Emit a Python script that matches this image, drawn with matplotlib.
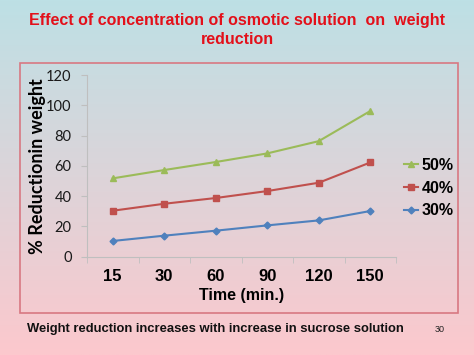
import numpy as np
import matplotlib
matplotlib.use("Agg")
import matplotlib.pyplot as plt

times = ["15", "30", "60", "90", "120", "150"]
s50 = [51.8, 57.3, 62.6, 68.3, 76.4, 96.3]
s40 = [30.4, 35.0, 38.8, 43.4, 48.9, 62.3]
s30 = [10.4, 13.9, 17.2, 20.7, 24.0, 30.2]
yticks = [0, 20, 40, 60, 80, 100, 120]

W, H = 474, 355
fig = plt.figure(figsize=(W/100, H/100), dpi=100)

# background gradient
bg = fig.add_axes([0, 0, 1, 1], zorder=-10)
top = np.array([189, 224, 229]) / 255
bot = np.array([252, 200, 205]) / 255
t = np.linspace(0, 1, 256)[:, None]
grad = top[None, :] * (1 - t) + bot[None, :] * t
img = np.repeat(grad[:, None, :], 2, axis=1)
bg.imshow(img, aspect="auto", extent=[0, 1, 0, 1], origin="upper")
bg.set_xlim(0, 1); bg.set_ylim(0, 1)
bg.axis("off")

# border box
bg.add_patch(plt.Rectangle((20/W, 1-313/H), (458-20)/W, (313-63)/H,
                           fill=False, edgecolor="#d87882", linewidth=1.2))

def fx(px): return px / W
def fy(py): return 1 - py / H

left, right = 87, 396
ytop, ybot = 75.2, 256.7
ax = fig.add_axes([fx(left), fy(ybot), (right-left)/W, (ybot-ytop)/H])
ax.patch.set_alpha(0)

x = np.arange(len(times))
ax.plot(x, s50, color="#9BBB59", marker="^", markersize=5, lw=1.5, label="50%")
ax.plot(x, s40, color="#C0504D", marker="s", markersize=4.5, lw=1.5, label="40%")
ax.plot(x, s30, color="#4F81BD", marker="D", markersize=3.5, lw=1.5, label="30%")

ax.set_xlim(-0.5, len(times) - 0.5)
ax.set_ylim(0, 120)
ax.set_yticks(yticks)
ax.set_yticklabels([str(v) for v in yticks], fontsize=10.5, family="Lato", color="#1a1a1a")
ax.set_xticks(x)
ax.set_xticklabels(times, fontsize=12, fontweight="bold", family="Liberation Sans")
ax.set_xticks(np.arange(-0.5, len(times)), minor=True)
ax.tick_params(axis="x", which="major", length=0, pad=9)
ax.tick_params(axis="x", which="minor", length=4, color="#bfbfbf", direction="out")
ax.tick_params(axis="y", length=4, color="#bfbfbf", pad=7)
for s in ["top", "right"]:
    ax.spines[s].set_visible(False)
for s in ["left", "bottom"]:
    ax.spines[s].set_color("#bfbfbf")
    ax.spines[s].set_linewidth(0.8)

ax.set_xlabel("Time (min.)", fontsize=11.5, fontweight="bold", family="Liberation Sans", labelpad=3)
ax.set_ylabel("% Reductionin weight", fontsize=13, fontweight="bold", family="Lato", labelpad=0)

handles, labels = ax.get_legend_handles_labels()
leg = fig.legend(handles, labels, loc="center left", bbox_to_anchor=(fx(396), fy(188)),
                 frameon=False, prop={"family": "Liberation Sans", "weight": "bold", "size": 11.5},
                 handlelength=0.9, handletextpad=0.2, labelspacing=0.5, borderpad=0)

fig.text(0.5, fy(20), "Effect of concentration of osmotic solution  on  weight",
         ha="center", va="center", color="#e3101a", fontsize=11.5, fontweight="bold",
         family="Liberation Sans")
fig.text(0.5, fy(40), "reduction", ha="center", va="center", color="#e3101a",
         fontsize=11.5, fontweight="bold", family="Liberation Sans")
fig.text(fx(27), fy(329), "Weight reduction increases with increase in sucrose solution",
         ha="left", va="center", fontsize=9.4, fontweight="bold", family="Liberation Sans",
         color="#111111")
fig.text(fx(440), fy(330), "30", ha="center", va="center", fontsize=6.5,
         family="Liberation Sans", color="#222222")

fig.savefig("out.png", dpi=100)
